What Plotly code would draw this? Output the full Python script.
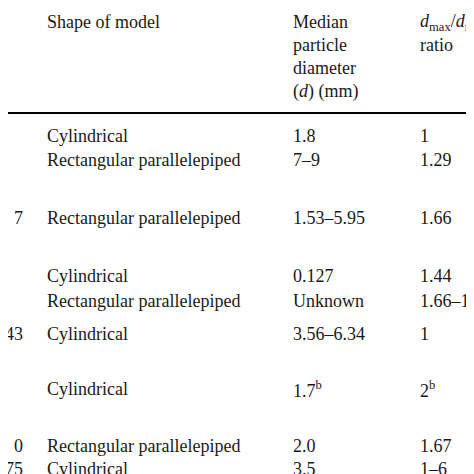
import plotly.graph_objects as go

left_col = ['', '', '7', '', '', '43', '', '0', '75']
shapes = ['Cylindrical', 'Rectangular parallelepiped', 'Rectangular parallelepiped',
          'Cylindrical', 'Rectangular parallelepiped', 'Cylindrical', 'Cylindrical',
          'Rectangular parallelepiped', 'Cylindrical']
diameters = ['1.8', '7–9', '1.53–5.95', '0.127', 'Unknown', '3.56–6.34',
             '1.7<sup>b</sup>', '2.0', '3.5']
ratios = ['1', '1.29', '1.66', '1.44', '1.66–10', '1', '2<sup>b</sup>', '1.67', '1–6']
row_y = [128, 152, 210, 268, 293, 326, 381, 438, 461]

W = H = 474
font = dict(family='Liberation Serif', size=18, color='#1a1a1a')

fig = go.Figure()
ann = []

def add(x, y, text, xanchor='left'):
    ann.append(dict(x=x, y=H - y, xref='x', yref='y', text=text, showarrow=False,
                    xanchor=xanchor, yanchor='middle', align='left', font=font))

add(37, 14, 'Shape of model')
for i, t in enumerate(['Median', 'particle', 'diameter', '(<i>d</i>) (mm)']):
    add(283, 14 + i * 23, t)
add(410, 14, '<i>d</i><sub>max</sub>/<i>d</i><sub>m</sub>')
add(410, 37, 'ratio')

for y, l, s, d, r in zip(row_y, left_col, shapes, diameters, ratios):
    if l:
        add(17, y, l, 'right')
    add(37, y, s)
    add(283, y, d)
    add(410, y, r)

fig.add_shape(type='line', x0=0, x1=W, y0=H - 105, y1=H - 105, xref='x', yref='y',
              line=dict(color='black', width=2))

fig.update_layout(width=W, height=H, margin=dict(l=0, r=0, t=0, b=0),
                  paper_bgcolor='white', plot_bgcolor='white', annotations=ann,
                  showlegend=False)
fig.update_xaxes(range=[0, W], visible=False, fixedrange=True)
fig.update_yaxes(range=[0, H], visible=False, fixedrange=True)

fig.write_html('out.html')
